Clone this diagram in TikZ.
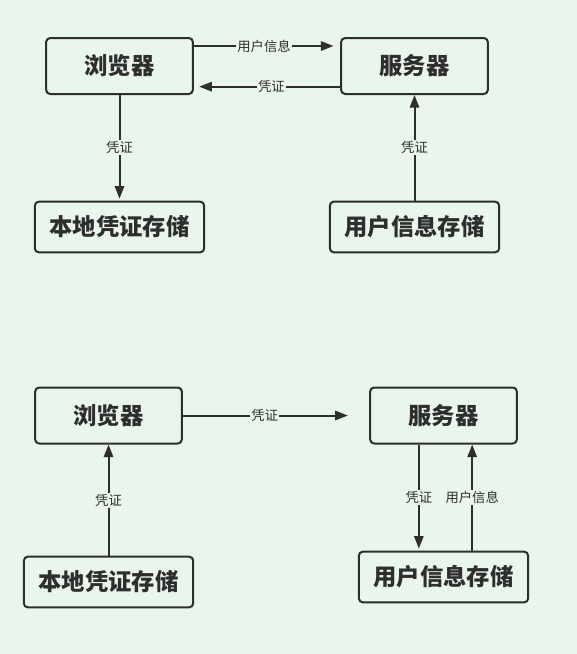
\documentclass[tikz,border=0pt]{standalone}
\usepackage{fontspec}
\newfontfamily\cjk{Noto Sans CJK SC}
\usetikzlibrary{arrows.meta}
\definecolor{bg}{RGB}{234,245,236}
\definecolor{ink}{RGB}{46,46,46}
\tikzset{
  box/.style={draw=ink, line width=1.5pt, rounded corners=3pt, text=ink,
    font=\cjk\bfseries\fontsize{17.5}{19}\selectfont},
  pagebox/.style={box, minimum width=110pt, minimum height=42pt},
  storebox/.style={box, minimum width=127pt, minimum height=38pt},
  tag/.style={fill=bg, text=ink, font=\cjk\fontsize{10}{11}\selectfont, inner sep=1pt},
  link/.style={draw=ink, line width=1.5pt, -{Triangle[length=9.5pt,width=7pt]}}
}
\begin{document}
\begin{tikzpicture}[x=0.75pt, y=-0.75pt]
      \fill[bg] (0,0) rectangle (577,654);
      \useasboundingbox (0,0) rectangle (577,654);
      % first flow
      \node[pagebox] (web1) at (119.5,66) {浏览器};
      \node[pagebox] (srv1) at (414.5,66) {服务器};
      \node[storebox] (loc1) at (119.5,227) {本地凭证存储};
      \node[storebox] (usr1) at (414.5,227) {用户信息存储};
      % second flow
      \node[pagebox] (web2) at (108.5,415.5) {浏览器};
      \node[pagebox] (srv2) at (443.5,415.5) {服务器};
      \node[storebox] (loc2) at (108.5,582) {本地凭证存储};
      \node[storebox] (usr2) at (443.5,577) {用户信息存储};
      \begin{scope}[link]
        \draw[shorten >=5pt] ([yshift=15pt]web1.east) -- node[tag, pos=0.48]{用户信息} ([yshift=15pt]srv1.west);
        \draw[shorten >=4pt] ([yshift=-15.5pt]srv1.west) -- node[tag, pos=0.47]{凭证} ([yshift=-15.5pt]web1.east);
        \draw[shorten >=1.5pt] (web1) -- node[tag]{凭证} (loc1);
        \draw (usr1) -- node[tag]{凭证} (srv1);
        \draw[shorten >=16pt] (web2) -- node[tag, pos=0.44]{凭证} (srv2);
        \draw (loc2) -- node[tag]{凭证} (web2);
        \draw[shorten >=1.5pt] ([xshift=-18.5pt]srv2.south) -- node[tag]{凭证} ([xshift=-18.5pt]usr2.north);
        \draw ([xshift=21.5pt]usr2.north) -- node[tag]{用户信息} ([xshift=21.5pt]srv2.south);
      \end{scope}
    \end{tikzpicture}
\end{document}
